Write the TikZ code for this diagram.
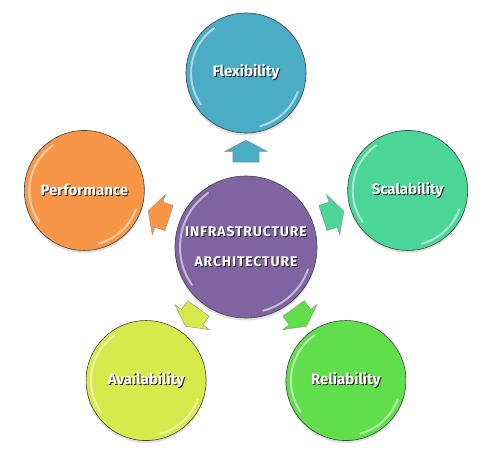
\documentclass[tikz,border=0pt]{standalone}
\usepackage{fontspec}
\setmainfont{Fira Sans}
\usetikzlibrary{calc}
\usetikzlibrary{shapes.arrows}
\usetikzlibrary{shadows}

\definecolor{hubpurple}{RGB}{128,100,162}
\definecolor{flexblue}{RGB}{75,172,198}
\definecolor{scalgreen}{RGB}{75,213,150}
\definecolor{perforange}{RGB}{247,150,70}
\definecolor{availlime}{RGB}{212,235,75}
\definecolor{relgreen}{RGB}{96,222,76}

\newcommand{\glowtext}[1]{\makebox[0pt][l]{\hspace{1pt}\raisebox{-1pt}{\color{black!85}#1}}#1}

\tikzset{
 bubble/.style={circle, draw=black!75, line width=.6pt, minimum size=120pt, inner sep=0pt, text=white,
  font=\bfseries\fontsize{15}{17}\selectfont, drop shadow={shadow xshift=0pt, shadow yshift=-2.5pt, opacity=.25}},
 pointer/.style={single arrow, draw=black!45, line width=.4pt, minimum height=22pt, text height=26pt, text depth=0pt,
  single arrow head extend=8pt, single arrow tip angle=124, inner sep=0pt},
 gloss/.style={white, opacity=.55, line width=2pt, line cap=round}
}

\begin{document}
\begin{tikzpicture}[x=1pt, y=1pt]
\useasboundingbox (-246,-216) rectangle (250,243);

\node[bubble, fill=hubpurple, minimum size=142pt, align=center,
 font=\bfseries\fontsize{14}{16}\selectfont\addfontfeature{LetterSpace=6}] (hub)
 at (0,-4) {\glowtext{INFRASTRUCTURE}\\[14pt]\glowtext{ARCHITECTURE}};
\draw[gloss] ($(hub)+(125:66)$) arc[start angle=125, end angle=215, radius=66];
\draw[gloss] ($(hub)+(-75:66)$) arc[start angle=-75, end angle=-20, radius=66];

\foreach \ang/\name/\col/\txt in {90/flex/flexblue/Flexibility, 18/scal/scalgreen/Scalability,
 162/perf/perforange/Performance, 234/avail/availlime/Availability, 306/rel/relgreen/Reliability} {
 \node[bubble, fill=\col] (\name) at (\ang:170) {\glowtext{\txt}};
 \node[pointer, fill=\col, rotate=\ang] (\name-tip) at ($(0,0)!.52!(\name)$) {};
 \draw[gloss] ($(\name)+(125:55)$) arc[start angle=125, end angle=215, radius=55];
 \draw[gloss] ($(\name)+(-75:55)$) arc[start angle=-75, end angle=-20, radius=55];
}
\end{tikzpicture}
\end{document}
